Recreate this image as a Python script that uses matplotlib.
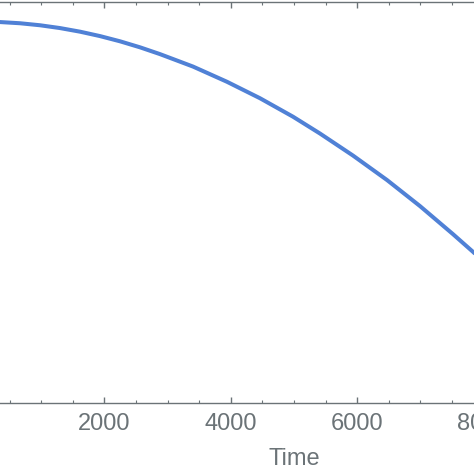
import numpy as np
import matplotlib.pyplot as plt

# values (y in relative units, 0 = bottom frame, 1 = top frame)
time = [0, 348, 665, 981, 1297, 1614, 1930, 2247, 2563, 2880, 3402, 3940,
        4462, 4984, 5411, 5934, 6472, 6994, 7516, 7832, 8200]
value = [0.952, 0.950, 0.947, 0.942, 0.935, 0.926, 0.915, 0.902, 0.887, 0.870,
         0.839, 0.801, 0.760, 0.714, 0.672, 0.617, 0.556, 0.491, 0.421, 0.377, 0.323]
xticks = [2000, 4000, 6000, 8000]

grey = '#6b7377'
line_blue = '#5081d6'

plt.rcParams['font.family'] = ['Liberation Sans', 'DejaVu Sans']

fig = plt.figure(figsize=(4.74, 4.74), dpi=100)
# frame extends past the left and right edges of the picture
ax = fig.add_axes([-22 / 474, 71 / 474, 632 / 474, 401 / 474])

ax.plot(time, value, color=line_blue, lw=2.9, solid_capstyle='butt', solid_joinstyle='round')

ax.set_xlim(0, 10000)
ax.set_ylim(0, 1)
ax.set_xticks(xticks)
ax.set_xticks(np.arange(0, 10001, 500), minor=True)
ax.set_yticks([])

for s in ax.spines.values():
    s.set_color(grey)
    s.set_linewidth(1.0)

ax.tick_params(axis='x', which='both', direction='in', top=True, color=grey,
               labelcolor=grey, labelsize=17, pad=7.5)
ax.tick_params(axis='x', which='major', length=4, width=1)
ax.tick_params(axis='x', which='minor', length=2.2, width=0.8)

ax.set_xlabel('Time', color=grey, fontsize=17, labelpad=9)

fig.savefig('out.png', dpi=100)
